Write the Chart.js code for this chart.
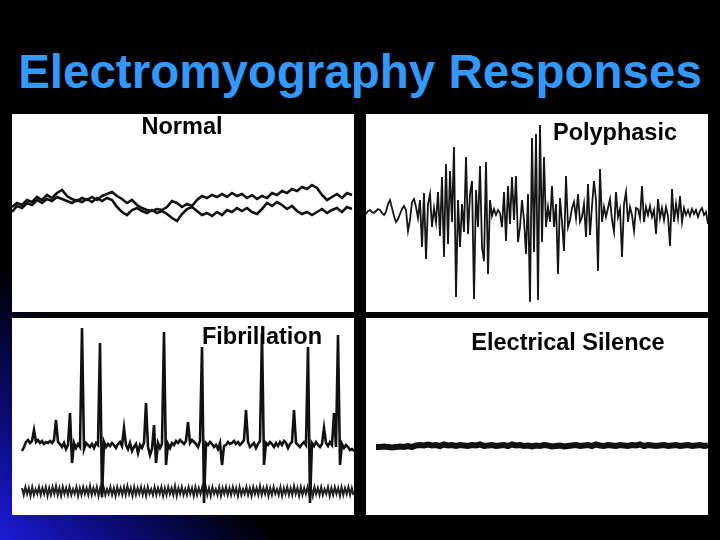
<!DOCTYPE html>
<html>
<head>
<meta charset="utf-8">
<script src="https://cdn.jsdelivr.net/npm/chart.js@4.4.0/dist/chart.umd.min.js"></script>
<style>
  html, body { margin: 0; padding: 0; }
  body {
    width: 720px; height: 540px; overflow: hidden; position: relative;
    background: linear-gradient(45deg, #1c1cd8 0%, #0c0c80 9%, #000 22%, #000 100%);
    font-family: "Liberation Sans", Arial, sans-serif;
  }
  .title {
    position: absolute; left: 0; top: 48px; width: 720px; text-align: center;
    font-size: 47.5px; line-height: 1; font-weight: bold; color: #3399ff;
  }
  .panel { position: absolute; width: 342px; height: 198px; background: #fff; }
  .panel canvas { position: absolute; left: 0; top: 0; }
  .lbl {
    position: absolute; font-size: 23.5px; line-height: 1; font-weight: bold;
    color: #000; white-space: nowrap; transform: translateX(-50%);
  }
</style>
</head>
<body>
<div class="title">Electromyography Responses</div>

<div class="panel" style="left:12px;top:114px"><canvas id="normal" width="342" height="198"></canvas></div>
<div class="panel" style="left:366px;top:114px"><canvas id="poly" width="342" height="198"></canvas></div>
<div class="panel" style="left:12px;top:318px;height:197px"><canvas id="fib" width="342" height="197"></canvas></div>
<div class="panel" style="left:366px;top:318px;height:197px"><canvas id="silence" width="342" height="197"></canvas></div>

<div class="lbl" style="left:182px;top:115px">Normal</div>
<div class="lbl" style="left:615px;top:121px">Polyphasic</div>
<div class="lbl" style="left:262px;top:325px">Fibrillation</div>
<div class="lbl" style="left:568px;top:331px">Electrical Silence</div>

<script>
// sample steps (ms) and traces (uV)
const normalStep = 5;
const normalA = [-2, 2, 0, 5, 3, 8, 5, 10, 7, 12, 15, 9, 6, 4, 7, 5, 8, 5, 9, 11,
  13, 9, 6, 2, 5, 0, -3, -5, -6, -4, -5, -2, 4, 2, -2, 1, -1, 5, 9, 7,
  10, 8, 11, 8, 12, 9, 11, 7, 10, 6, 9, 7, 12, 10, 14, 12, 16, 14, 18, 16,
  20, 17, 10, 5, 8, 11, 7, 12, 10];
const normalB = [-7, -1, -3, 2, 0, 5, 2, 6, 4, 8, 6, 4, 2, 5, 3, 6, 3, 7, 4, 7,
  5, -2, -7, -10, -5, -3, -6, -8, -5, -8, -6, -9, -13, -16, -9, -4, -2, -6, -10, -8,
  -11, -7, -10, -5, -7, -3, -6, -3, -7, -9, -4, 2, -1, 3, 0, -4, -1, -6, -9, -7,
  -10, -7, -4, -8, -5, -3, -7, -2, -4];

const polyStep = 2;
const polyV = [-2, 1, 2, 0, -1, 1, 3, 2, -1, -3, 0,
  8, 12, 4, -4, -10, -7, -2, 3, 6, 2,
  -19, -8, 10, 13, 5, -6,
  12, -35, 19, -47, 8,
  18, -15, 4, -10,
  20, -24, 35, -45, 48,
  -32, 41, -10, 65, -85,
  12, -35, 8, -20, 55,
  -22, 18, 31, -87, 22,
  -15, 46, -35, -49, 50, -62,
  12, -4, 3, -3, 2, -1,
  -15, 20, -29, 26, -12, 35, -8,
  36, -30, -15, 12, -8, -42,
  18, -90, 74, -40, 78, -88, 87, -30,
  55, -15, 5, -10, 26, -15, 8,
  -62, 14, -10, -39, 36, -15,
  -8, 4, 10, -6, 18, -10,
  -5, 8, -25, 28, -23, 6,
  31, 12, -59, 43, -10, 5, -5,
  4, 13, -8, -20, 20, -5, 3, -45,
  8, 20, -10, 5, -3, -19,
  4, 3, -6, 26, -10, 5, -3,
  6, -5, 2, -22, 13, -6, 4,
  -8, 5, -4, -34, 23, -10, 8,
  -6, 16, -10, 4, -3, 2, -4,
  3, -2, 2, -5, 1, 4, -3, 0, -12];

const fibStep = 2;
const fibUpper = [null, null, null, null, null, -6, -2, 3, 5, 2,
  4, 15, 3, 5, 2, 4, 1, 3, 2, 4,
  2, 5, 25, 3, 1, -2, 2, -4, 0, 32,
  -18, 2, -3, 1, -2, 117, -4, 2, 0, -2,
  1, -3, 2, 0, 102, -52, 3, -2, 1, -1,
  2, 0, -3, 1, 3, -1, 17, 0, -4, 2,
  -6, -2, 1, -8, 0, -3, 2, 42, -2, -10,
  -4, 20, -18, 2, -3, 1, 113, -20, 1, -3,
  2, 0, 4, 2, 5, 3, 1, 4, 23, 2,
  5, 3, 1, -2, 4, 98, -58, 2, 0, 3,
  1, -2, 0, -4, 2, -20, -1, 0, 3, 1,
  2, 4, 1, 3, 0, 2, 5, 35, 3, -2,
  0, 2, -3, 1, 4, 112, -20, 2, 0, 3,
  1, -2, 2, -1, 3, 0, 4, 2, -3, 1,
  3, 35, 2, 0, -2, 1, 3, 0, 98, -58,
  2, -1, 3, 0, -2, 1, 17, 2, -1, 3,
  0, 32, -2, 110, -20, 1, -3, 0, -2, -5,
  -4, -6];
const fibLowerStart = 10;
const fibLowerStep = 1.7;
const fibLower = [
  -43, -50, -42, -49, -43, -51, -42, -50, -44, -49, -42, -50, -43, -49,
  -42, -51, -43, -50, -42, -49, -41, -50, -43, -51, -42, -49, -43, -50,
  -42, -50, -44, -49, -42, -51, -43, -50, -42, -49, -43, -50, -41, -50,
  -43, -49, -42, -51, -43, -50, -42, -50, -44, -49, -42, -50, -43, -51,
  -42, -49, -43, -50, -42, -50, -41, -49, -43, -51, -42, -50, -43, -49,
  -42, -50, -43, -51, -42, -49, -44, -50, -42, -50, -43, -49, -42, -51,
  -43, -50, -42, -49, -43, -50, -41, -51, -43, -49, -42, -50, -44, -50,
  -42, -49, -43, -51, -42, -50, -43, -49, -42, -50, -41, -50, -43, -51,
  -42, -49, -44, -50, -42, -51, -43, -49, -42, -50, -43, -50, -42, -49,
  -43, -51, -42, -50, -44, -49, -42, -50, -43, -51, -42, -49, -43, -50,
  -41, -50, -43, -49, -42, -51, -43, -50, -42, -49, -44, -50, -42, -51,
  -43, -49, -42, -50, -43, -50, -41, -49, -43, -51, -42, -50, -43, -49,
  -42, -50, -43, -51, -42, -49, -43, -50, -42, -50, -44, -49, -42, -51,
  -43, -50, -42, -49, -43, -51, -42, -50, -43, -49, -42, -50, -43, -50];

const silenceStart = 10;
const silenceStep = 4;
const silenceV = [-1, -1, -0.5, -1, -1.5, -1, -0.5, -1, 0, -1, 0.5,
  1, 0.5, 1.5, 0.5, 1, 0, 1.5, 0.5, 1, 0,
  1, 0.5, 0, 1, 0.5, 1.5, 0, 0.5, 1, 0,
  0.5, 1, 0, 1.5, 0.5, 1, 0, 0.5, -0.5, 0.5,
  0, 1, 0.5, -0.5, 0, 0.5, -0.5, 0, 0.5, 1,
  0, 0.5, 1, 0, 1.5, 0.5, 0, 1, 0.5, 0,
  1, 0.5, 0, 1, 0.5, 1.5, 0, 1, 0.5, 0,
  0.5, 1, 0, 0.5, 1, 0, 0.5, 1, 0, 0.5,
  1, 0, 0.5];

function pts(values, start, step) {
  return values.map((v, i) => ({ x: start + i * step, y: v }));
}

function trace(id, datasets, yMin, yMax) {
  return new Chart(document.getElementById(id), {
    type: 'line',
    data: { datasets: datasets },
    options: {
      responsive: false,
      animation: false,
      devicePixelRatio: 1,
      layout: { padding: 0 },
      plugins: { legend: { display: false }, tooltip: { enabled: false } },
      elements: { point: { radius: 0 }, line: { tension: 0 } },
      scales: {
        x: { type: 'linear', display: false, min: 0, max: 342 },
        y: { display: false, min: yMin, max: yMax }
      }
    }
  });
}

trace('normal', [
  { data: pts(normalA, 0, normalStep), borderColor: '#111', borderWidth: 2.6 },
  { data: pts(normalB, 0, normalStep), borderColor: '#111', borderWidth: 2.6 }
], -107, 91);

trace('poly', [
  { data: pts(polyV, 0, polyStep), borderColor: '#151515', borderWidth: 1.8 }
], -100, 98);

trace('fib', [
  { data: pts(fibUpper, 0, fibStep), borderColor: '#111', borderWidth: 2.6, spanGaps: false },
  { data: pts(fibLower, fibLowerStart, fibLowerStep), borderColor: '#222', borderWidth: 2 }
], -70, 127);

trace('silence', [
  { data: pts(silenceV, silenceStart, silenceStep), borderColor: '#111', borderWidth: 6 }
], -69, 128);
</script>
</body>
</html>
